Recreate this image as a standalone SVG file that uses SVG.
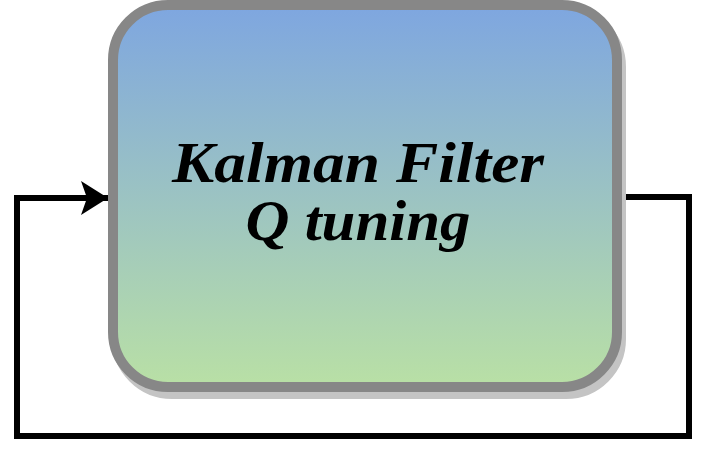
<svg xmlns="http://www.w3.org/2000/svg" width="708" height="456" viewBox="0 0 708 456">
<defs>
<linearGradient id="g" x1="0" y1="0" x2="0" y2="1">
<stop offset="0" stop-color="#7ea6e0"/>
<stop offset="1" stop-color="#b9e0a5"/>
</linearGradient>
<marker id="arr" markerUnits="userSpaceOnUse" markerWidth="32" markerHeight="36" refX="27" refY="17" orient="auto">
<path d="M0,0 L27,17 L0,34 L6,17 Z" fill="#000"/>
</marker>
<style>
.lbl{font-family:"Liberation Serif","DejaVu Serif",serif;font-weight:bold;font-style:italic;font-size:56px;fill:#000}
.wire{fill:none;stroke:#000;stroke-width:6}
</style>
</defs>
<g id="connectors">
<path class="wire" d="M622,197 H689 V436 H17 V198 H108" marker-end="url(#arr)"/>
</g>
<g id="kalman">
<rect x="117" y="12" width="504" height="382" rx="55" fill="#c4c4c4" stroke="#c4c4c4" stroke-width="10"/>
<rect x="113" y="5" width="504" height="382" rx="55" fill="url(#g)" stroke="#878787" stroke-width="10"/>
<text class="lbl" x="358" y="182" text-anchor="middle" textLength="372" lengthAdjust="spacingAndGlyphs">Kalman Filter</text>
<text class="lbl" x="358" y="240" text-anchor="middle" textLength="225" lengthAdjust="spacingAndGlyphs">Q tuning</text>
</g>
</svg>
